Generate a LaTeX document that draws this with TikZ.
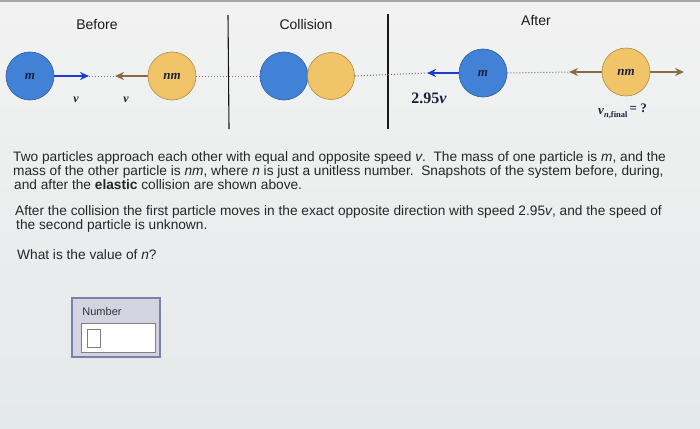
\documentclass[tikz,border=0pt]{standalone}
\usepackage{fontspec}
\setmainfont{Liberation Sans}
\newfontfamily\serifb{Liberation Serif}
\usetikzlibrary{arrows.meta}
\definecolor{bgtop}{HTML}{F2F2F2}
\definecolor{bgbot}{HTML}{E4E9EA}
\definecolor{bluefill}{HTML}{4282D6}
\definecolor{blueedge}{HTML}{2C5C9C}
\definecolor{orfill}{HTML}{F2C46A}
\definecolor{oredge}{HTML}{B08A40}
\definecolor{bluearr}{HTML}{1A3CCF}
\definecolor{brownarr}{HTML}{8A6A40}
\definecolor{dotc}{HTML}{6A7080}
\definecolor{navy}{HTML}{1A2040}
\definecolor{boxfill}{HTML}{D4D4E0}
\definecolor{boxedge}{HTML}{7A80A8}
\begin{document}
\begin{tikzpicture}[x=1pt,y=-1pt,
  blueball/.style={circle,minimum size=48pt,inner sep=0pt,fill=bluefill,draw=blueedge,line width=0.6pt,
     font=\serifb\bfseries\itshape\fontsize{13}{13}\selectfont,text=navy},
  orball/.style={circle,minimum size=48pt,inner sep=0pt,fill=orfill,draw=oredge,line width=0.6pt,
     font=\serifb\bfseries\itshape\fontsize{13}{13}\selectfont,text=navy},
  barr/.style={draw=bluearr,line width=1.6pt,-{Stealth[length=9pt,width=8pt]}},
  oarr/.style={draw=brownarr,line width=1.6pt,-{Stealth[length=9pt,width=8pt]}},
  dots/.style={draw=dotc,line width=1pt,dotted},
  sep/.style={draw=black!90,line width=1.1pt},
  head/.style={font=\fontsize{14}{14}\selectfont,text=black!90},
  vlab/.style={font=\serifb\bfseries\itshape\fontsize{12}{12}\selectfont,text=navy},
  para/.style={anchor=base west,inner sep=0pt,font=\fontsize{13.7}{13.7}\selectfont,text=black!85}
]
\shade[top color=bgtop,bottom color=bgbot] (0,0) rectangle (700,428);
\useasboundingbox (0,0) rectangle (700,428);
\draw[black!35,line width=1.5pt] (0,1) -- (700,1);

% headings
\node[head] (hb) at (97,25) {Before};
\node[head] (hc) at (306,24) {Collision};
\node[head] (ha) at (536,21) {After};

% separators
\coordinate (s1t) at (228,15); \coordinate (s1b) at (229,129);
\coordinate (s2t) at (388,14); \coordinate (s2b) at (388,129);
\draw[sep] (s1t) -- (s1b);
\draw[sep] (s2t) -- (s2b);

% before
\node[blueball] (b1) at (30,76) {m};
\node[orball] (o1) at (172,76) {nm};
\coordinate (b1tip) at (89,76);
\coordinate (o1tip) at (115,76);
\draw[dots] (b1tip) -- (o1tip);
\draw[barr] (b1.east) -- (b1tip);
\draw[oarr] (o1.west) -- (o1tip);
\node[vlab] (v1) at (76,100) {v};
\node[vlab] (v2) at (126,100) {v};

% collision
\node[blueball] (b2) at (284,76) {};
\node[orball,minimum size=47pt] (o2) at (331,76) {};
\draw[dots] (o1.east) -- (b2.west);

% after
\node[blueball] (b3) at (483,73) {m};
\node[orball] (o3) at (626,72) {nm};
\coordinate (b3tip) at (427,73);
\coordinate (o3ltip) at (569,72);
\coordinate (o3rtip) at (684,72);
\draw[dots] (o2.east) -- (b3tip);
\draw[dots] (b3.east) -- (o3ltip);
\draw[barr] (b3.west) -- (b3tip);
\draw[oarr] (o3.west) -- (o3ltip);
\draw[oarr] (o3.east) -- (o3rtip);
\node[font=\serifb\bfseries\fontsize{16}{16}\selectfont,text=navy] (sp) at (429,98) {2.95\textit{v}};
\node[font=\serifb\bfseries\fontsize{13}{13}\selectfont,text=navy,anchor=base west,inner sep=0pt] (vf) at (598,114)
  {\textit{v}\raisebox{-3pt}{\fontsize{8.5}{8.5}\selectfont\textit{n},final}\,\raisebox{2pt}{= ?}};

% paragraph
\node[para] (l1) at (13,161) {Two particles approach each other with equal and opposite speed \textit{v}.\ \ The mass of one particle is \textit{m}, and the};
\node[para] (l2) at (13,175) {mass of the other particle is \textit{nm}, where \textit{n} is just a unitless number.\ \ Snapshots of the system before, during,};
\node[para] (l3) at (14,189) {and after the \textbf{elastic} collision are shown above.};
\node[para] (l4) at (15,215) {After the collision the first particle moves in the exact opposite direction with speed 2.95\textit{v}, and the speed of};
\node[para] (l5) at (16,229) {the second particle is unknown.};
\node[para] (l6) at (17,259) {What is the value of \textit{n}?};

% number box
\draw[fill=boxfill,draw=boxedge,line width=1.6pt] (72,298) rectangle (160,357);
\node[font=\fontsize{11}{11}\selectfont,text=black!80] (num) at (102,312) {Number};
\draw[fill=white,draw=black!50,line width=0.8pt] (81,323) rectangle (155,352);
\draw[draw=black!50,line width=0.8pt,fill=white] (87,329) rectangle (100,347);
\end{tikzpicture}
\end{document}
